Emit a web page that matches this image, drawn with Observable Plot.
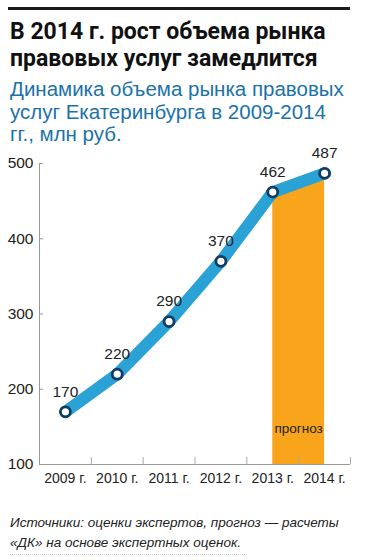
<!DOCTYPE html>
<html>
<head>
<meta charset="utf-8">
<script src="https://cdn.jsdelivr.net/npm/d3@7"></script>
<script src="https://cdn.jsdelivr.net/npm/@observablehq/plot@0.6"></script>
<style>
  html, body { margin: 0; padding: 0; background: #fff; }
  body { position: relative; width: 366px; height: 560px; overflow: hidden; font-family: "Liberation Sans", Arial, sans-serif; }
  .rule { position: absolute; top: 7px; left: 8px; width: 342px; border-top: 3px solid #1a1a1a; }
  h1 { position: absolute; top: 18px; left: 10px; margin: 0; width: 350px; font-family: Roboto, "Liberation Sans", sans-serif; font-weight: 700; font-size: 23px; line-height: 27px; color: #111; }
  h2 { position: absolute; top: 78px; left: 10px; margin: 0; width: 340px; height: 66px; overflow: visible; font-family: "Liberation Sans", Arial, sans-serif; font-weight: 400; font-size: 20.5px; line-height: 22.5px; color: #1b72a8; }
  #chart { position: absolute; top: 133px; left: 0; }
  .cap { position: absolute; top: 513px; left: 10px; width: 350px; font-style: italic; font-size: 13.5px; line-height: 20px; color: #222; }
  .dots { position: absolute; top: 554px; left: 10px; width: 235px; border-top: 1px dotted #ccc; }
</style>
</head>
<body>
<div class="rule"></div>
<h1>В 2014 г. рост объема рынка правовых услуг замедлится</h1>
<h2>Динамика объема рынка правовых услуг Екатеринбурга в 2009-2014 гг., млн руб.</h2>
<div id="chart"></div>
<div class="cap">Источники: оценки экспертов, прогноз — расчеты «ДК» на основе экспертных оценок.</div>
<div class="dots"></div>
<script>
const years = [2009, 2010, 2011, 2012, 2013, 2014];
const values = [170, 220, 290, 370, 462, 487];
const yearLabels = ["2009 г.", "2010 г.", "2011 г.", "2012 г.", "2013 г.", "2014 г."];
const forecastYears = [2013, 2014];
const forecastLabel = "прогноз";
const yTicks = [100, 200, 300, 400, 500];
const xDomain = [2008.5, 2014.5];
const yDomain = [100, 500];

const data = years.map((year, i) => ({year, value: values[i], label: yearLabels[i]}));
const forecast = data.filter(d => forecastYears.includes(d.year));
const boundaries = d3.range(xDomain[0] + 1, xDomain[1] + 1, 1);

const plot = Plot.plot({
  width: 366,
  height: 356,
  marginTop: 30,
  marginLeft: 39,
  marginRight: 16,
  marginBottom: 25,
  style: {fontFamily: '"Liberation Sans", Arial, sans-serif', color: "#222", background: "transparent"},
  x: {domain: xDomain},
  y: {domain: yDomain},
  marks: [
    Plot.areaY(forecast, {x: "year", y1: yDomain[0], y2: "value", fill: "#f8a51c"}),
    Plot.ruleY([yDomain[0]], {stroke: "#999", strokeWidth: 1}),
    Plot.ruleX([xDomain[0]], {stroke: "#999", strokeWidth: 1}),
    Plot.axisY({ticks: yTicks, tickSize: -4, tickPadding: 10, stroke: "#999", fontSize: 15.5, label: null, tickFormat: d => String(d)}),
    Plot.axisX({ticks: boundaries, tickSize: -7, tickFormat: () => "", stroke: "#aaa", label: null}),
    Plot.axisX({ticks: years, tickSize: 0, tickPadding: 9, fontSize: 14, label: null, tickFormat: d => yearLabels[years.indexOf(d)]}),
    Plot.line(data, {x: "year", y: "value", stroke: "#2ba2d6", strokeWidth: 12, curve: "linear", strokeLinejoin: "miter"}),
    Plot.dot(data, {x: "year", y: "value", r: 5, fill: "#fff", stroke: "#0e3d62", strokeWidth: 2.8}),
    Plot.text(data, {x: "year", y: "value", text: d => String(d.value), dy: -20, fontSize: 15.5, fill: "#222"}),
    Plot.text([forecastLabel], {x: () => d3.mean(forecastYears), frameAnchor: "bottom", dy: -32, fontSize: 13.5, fill: "#222"})
  ]
});
document.getElementById("chart").appendChild(plot);
</script>
</body>
</html>
